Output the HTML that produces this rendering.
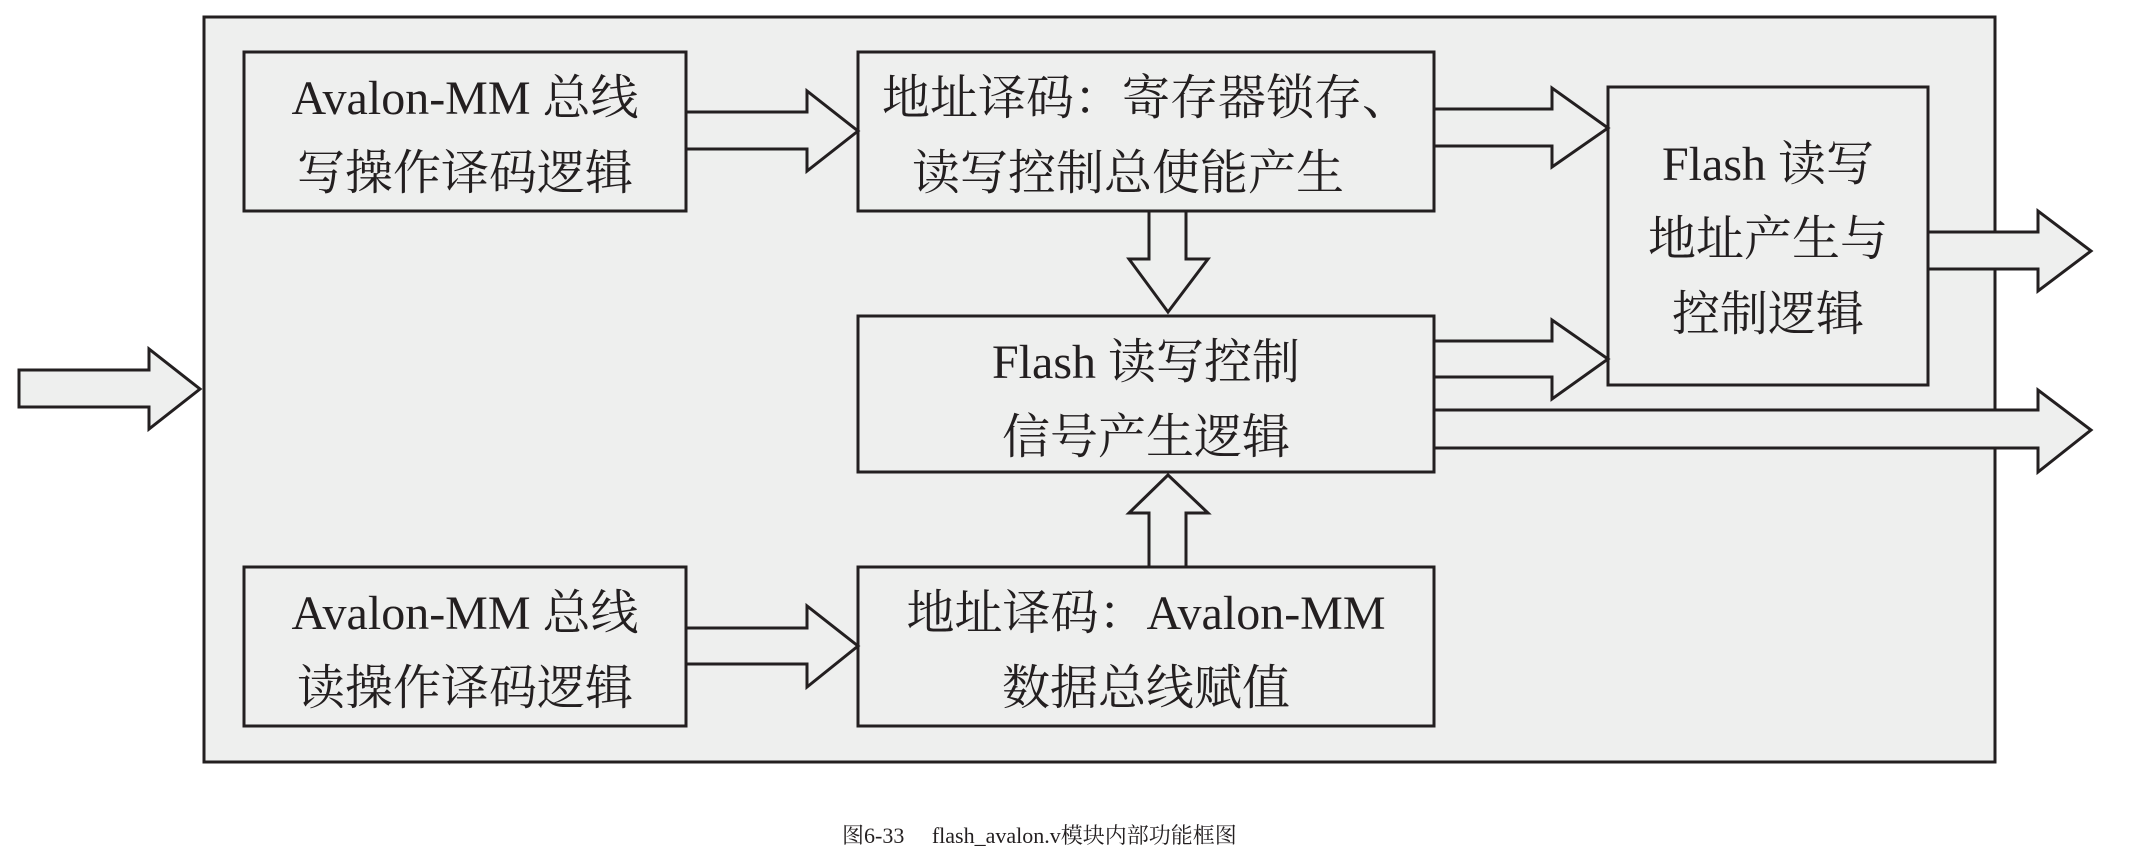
<!DOCTYPE html>
<html><head><meta charset="utf-8"><style>
html,body{margin:0;padding:0;background:#fff;width:2148px;height:866px;overflow:hidden}
svg text{font-family:"Liberation Serif","Noto Serif CJK SC",serif;fill:#231f20}
</style></head><body>
<svg width="2148" height="866" xmlns="http://www.w3.org/2000/svg">
<g stroke="#231f20" stroke-width="3" fill="#eeefee">
<rect x="204" y="17" width="1791" height="745"/>
<rect x="244" y="52" width="442" height="159"/>
<rect x="858" y="52" width="576" height="159"/>
<rect x="858" y="316" width="576" height="156"/>
<rect x="244" y="567" width="442" height="159"/>
<rect x="858" y="567" width="576" height="159"/>
<rect x="1608" y="87" width="320" height="298"/>
<polygon points="19,370 149,370 149,349 200,389 149,429 149,407 19,407"/>
<polygon points="686,112 807,112 807,91 858,131 807,171 807,149 686,149"/>
<polygon points="686,628 807,628 807,606 858,646 807,687 807,664 686,664"/>
<polygon points="1434,109 1552,109 1552,88 1608,128 1552,167 1552,146 1434,146"/>
<polygon points="1434,341 1552,341 1552,320 1608,359 1552,399 1552,377 1434,377"/>
<polygon points="1928,232 2038,232 2038,211 2091,251 2038,291 2038,269 1928,269"/>
<polygon points="1434,410 2038,410 2038,390 2091,430 2038,472 2038,448 1434,448"/>
<polygon points="1149,211 1186,211 1186,259 1208,259 1168,312 1129,259 1149,259"/>
<polygon points="1149,567 1186,567 1186,513 1208,513 1168,475 1129,513 1149,513"/>
</g>
<g font-size="48" text-anchor="middle">
<text x="465" y="114">Avalon-MM 总线</text>
<text x="465" y="189">写操作译码逻辑</text>
<text x="1146" y="114">地址译码：寄存器锁存、</text>
<text x="1128" y="189">读写控制总使能产生</text>
<text x="1146" y="378">Flash 读写控制</text>
<text x="1146" y="453">信号产生逻辑</text>
<text x="465" y="629">Avalon-MM 总线</text>
<text x="465" y="704">读操作译码逻辑</text>
<text x="1146" y="629">地址译码：Avalon-MM</text>
<text x="1146" y="704">数据总线赋值</text>
<text x="1768" y="180">Flash 读写</text>
<text x="1768" y="255">地址产生与</text>
<text x="1768" y="330">控制逻辑</text>
</g>
<text x="842" y="843" font-size="22">图6-33　 flash_avalon.v模块内部功能框图</text>
</svg>
</body></html>
